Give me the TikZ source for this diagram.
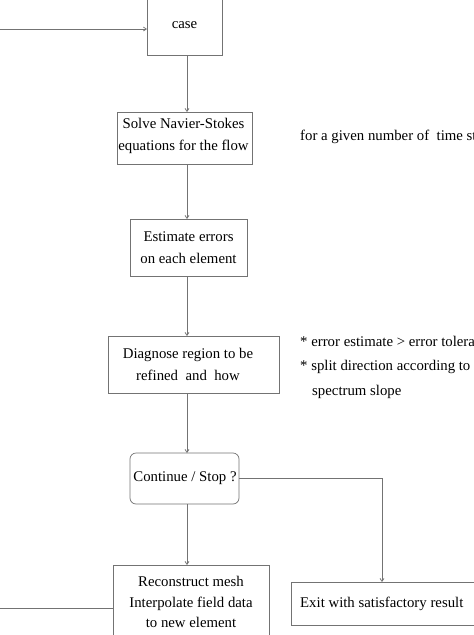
\documentclass[tikz,border=0pt]{standalone}
\usepackage{fontspec}
\setmainfont{Liberation Serif}
\usetikzlibrary{arrows.meta}
\begin{document}
\begin{tikzpicture}[x=1pt,y=-1pt,
  line/.style={draw=black!55, line width=0.7pt},
  arr/.style={line, -{Straight Barb[length=3pt,width=4pt]}},
  box/.style={draw=black!55, line width=0.7pt, fill=white},
  txt/.style={font=\fontsize{14.8}{22}\selectfont, align=center, inner sep=0pt},
  note/.style={font=\fontsize{14.8}{17}\selectfont, anchor=west, inner sep=0pt}]
\useasboundingbox (0,0) rectangle (474,635);
\clip (0,0) rectangle (474,635);
% boxes
\path[box] (147,-10) rectangle (222,55);
\node[txt] (case) at (184.5,25) {case};
\coordinate (caseb) at (187,55);
\coordinate (caseL) at (147,29);
\coordinate (inL) at (-5,29);

\path[box] (117,112) rectangle (252,164);
\coordinate (solveT) at (187,112);
\coordinate (solveB) at (187,164);
\node[txt] (solve) at (183.5,136) {Solve Navier-Stokes\\equations for the flow};

\path[box] (130,219) rectangle (247,276);
\coordinate (estT) at (187,219);
\coordinate (estB) at (187,276);
\node[txt] (est) at (188.5,248) {Estimate errors\\on each element};

\path[box] (108,336) rectangle (279,393);
\coordinate (diaT) at (187,336);
\coordinate (diaB) at (187,393);
\node[txt] (dia) at (188,364) {Diagnose region to be\\refined\ \ and\ \ how};

\path[box, rounded corners=6pt] (130,453) rectangle (239,504);
\coordinate (conT) at (187,453);
\coordinate (conB) at (187,504);
\coordinate (conR) at (239,478);
\node[txt] (con) at (185,478) {Continue / Stop ?};

\path[box] (113,565) rectangle (269,650);
\coordinate (recT) at (187,565);
\coordinate (recL) at (113,608);
\coordinate (outL) at (-5,608);
\node[txt, font=\fontsize{14.8}{20.5}\selectfont] (rec) at (191,602) {Reconstruct mesh\\Interpolate field data\\to new element};

\path[box] (291,582) rectangle (480,625);
\coordinate (exitT) at (382,582);
\node[txt, anchor=west] (exit) at (300,603.5) {Exit with satisfactory result};

% notes
\node[note] (n1) at (300,137) {for a given number of\ \ time steps};
\node[note] (n2) at (300,341) {* error estimate > error tolerance};
\node[note] (n3) at (300,366.5) {* split direction according to};
\node[note] (n4) at (312,392) {spectrum slope};

% connectors
\draw[arr] (inL) -- (caseL);
\draw[arr] (caseb) -- (solveT);
\draw[arr] (solveB) -- (estT);
\draw[arr] (estB) -- (diaT);
\draw[arr] (diaB) -- (conT);
\draw[arr] (conB) -- (recT);
\draw[arr] (conR) -| (exitT);
\draw[line] (recL) -- (outL);
\end{tikzpicture}
\end{document}
